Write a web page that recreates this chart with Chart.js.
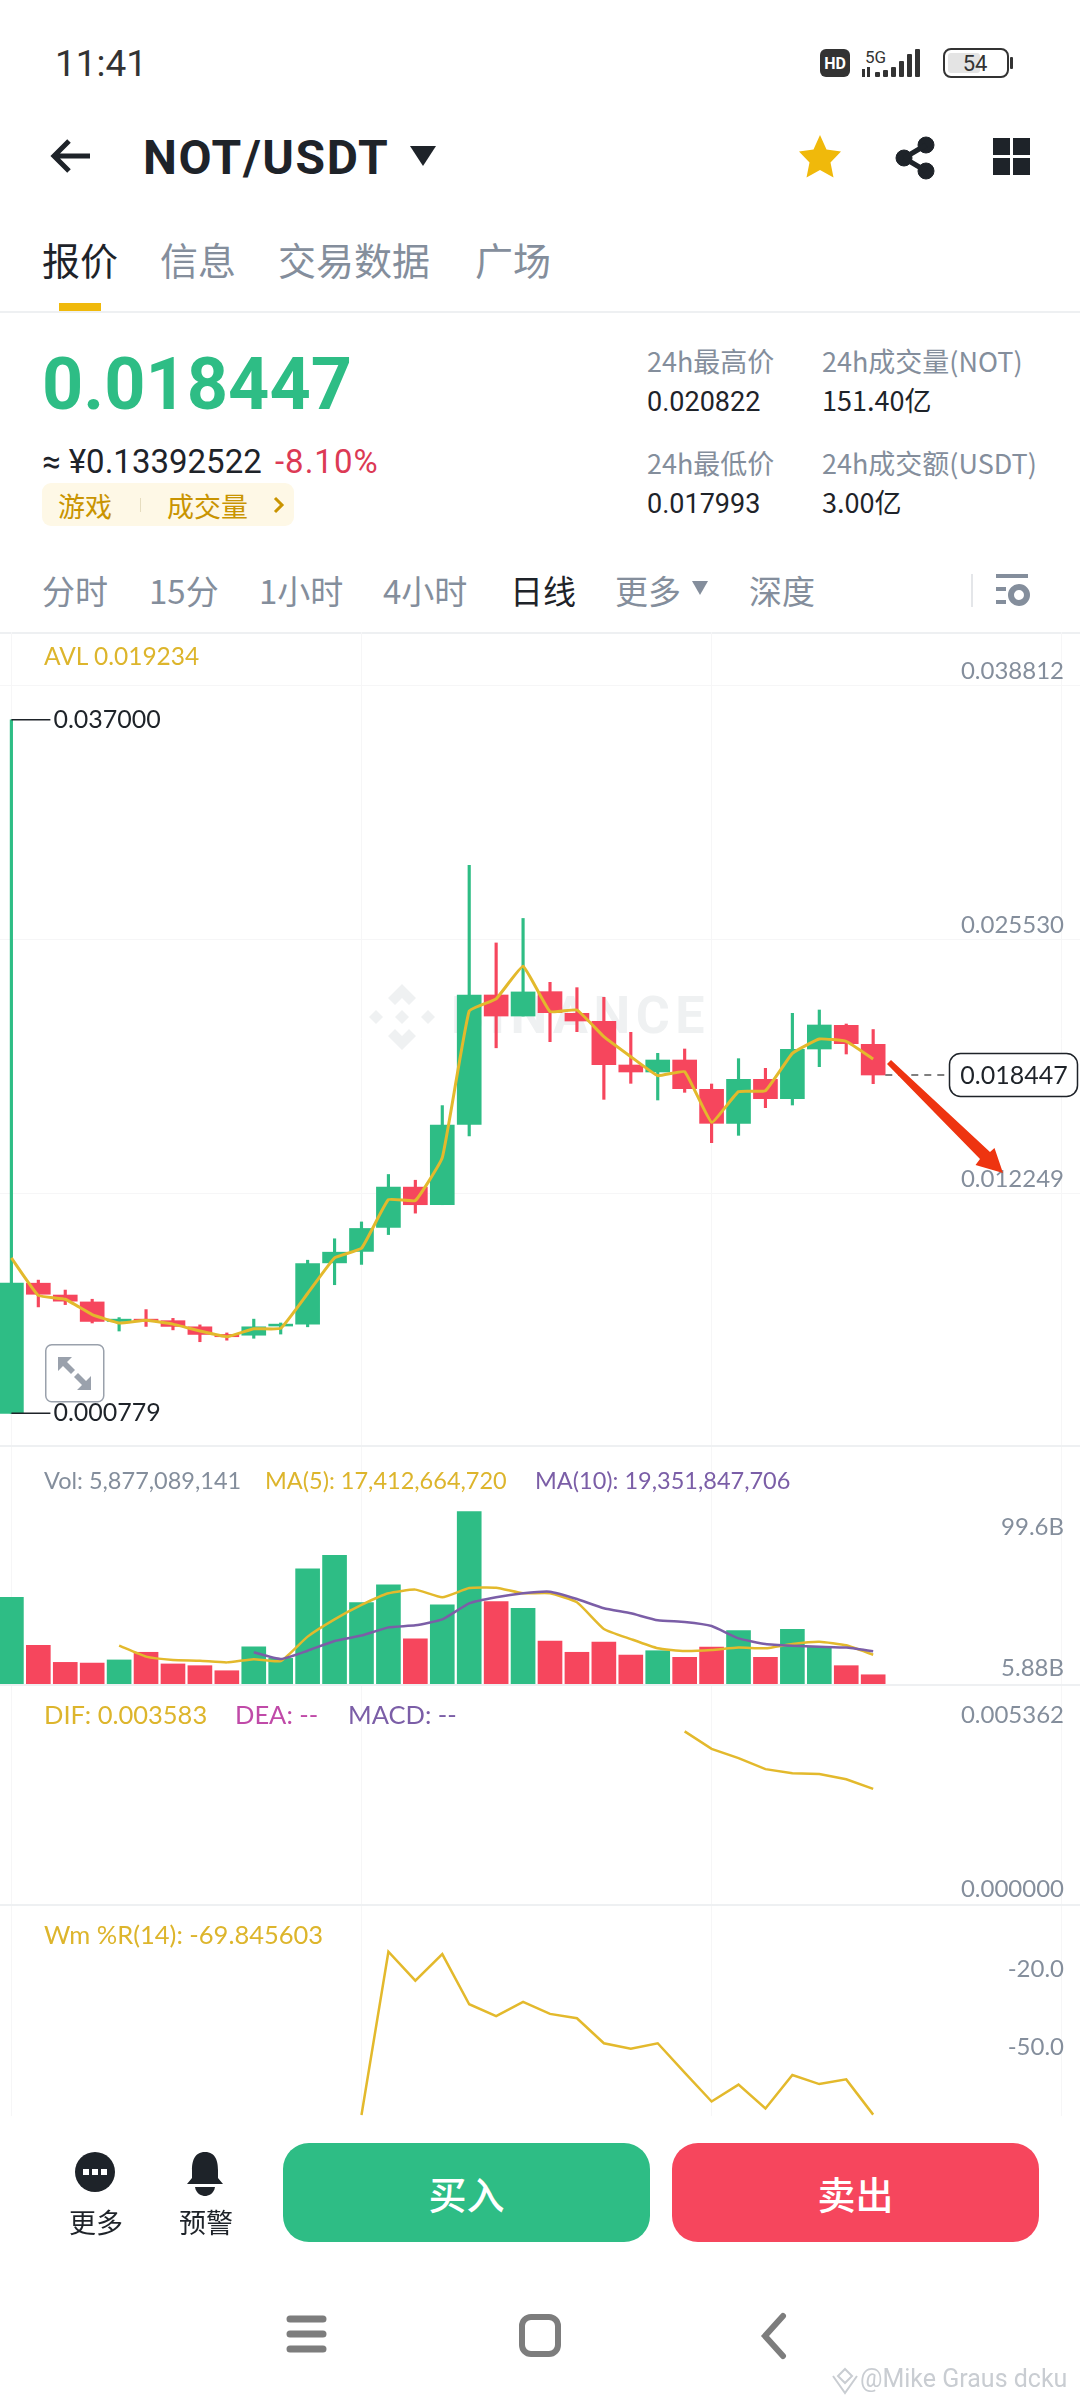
<!DOCTYPE html>
<html lang="zh">
<head>
<meta charset="utf-8">
<title>NOT/USDT</title>
<script src="https://cdn.jsdelivr.net/npm/chart.js@4/dist/chart.umd.min.js"></script>
<style>
  html, body { margin: 0; padding: 0; background: #fff; }
  #page { position: relative; width: 1080px; height: 2400px; overflow: hidden; background: #fff;
          font-family: Roboto, "Noto Sans CJK SC", sans-serif; color: #1E2329; }
  .t { position: absolute; white-space: nowrap; transform: translateY(-50%); line-height: 1; }
  .c { font-family: "Noto Sans CJK SC", Roboto, sans-serif; }
  .g { color: #848E9C; }
  .l { font-family: Lato, "Noto Sans", sans-serif; font-size: 23.5px; }
  .hr { position: absolute; left: 0; width: 1080px; height: 1.5px; background: #EEF0F2; }
  canvas { position: absolute; left: 0; }
  svg { position: absolute; overflow: visible; }
  .btn { position: absolute; top: 2143px; height: 99px; width: 367px; border-radius: 26px;
         color: #fff; font-size: 38px; text-align: center; line-height: 99px; font-weight: 500; }
</style>
</head>
<body>
<div id="page">
  <!-- status bar -->
  <div class="t" style="left:55px;top:63px;font-size:37px;color:#333">11:41</div>
  <svg style="left:820px;top:49px" width="200" height="32">
    <rect x="0" y="0" width="30" height="28" rx="6" fill="#333"/>
    <text x="15" y="20" font-size="16" font-weight="700" fill="#fff" text-anchor="middle" font-family="Roboto">HD</text>
    <text x="45" y="14" font-size="17" fill="#333" font-family="Roboto">5G</text>
    <g fill="#333">
      <rect x="42" y="20" width="3" height="8"/><rect x="47" y="18" width="3" height="10"/>
      <rect x="71" y="18" width="5" height="10" rx="1"/><rect x="79" y="12" width="5" height="16" rx="1"/>
      <rect x="87" y="5" width="5" height="23" rx="1"/><rect x="95" y="0" width="5" height="28" rx="1"/>
      <rect x="55" y="23" width="5" height="5" rx="1"/><rect x="63" y="21" width="5" height="7" rx="1"/>
    </g>
    <rect x="124" y="0" width="64" height="28" rx="7" fill="none" stroke="#333" stroke-width="2"/>
    <rect x="128" y="4" width="32" height="20" rx="3" fill="#E4E4E4"/>
    <rect x="190" y="8" width="3" height="12" rx="1" fill="#333"/>
    <text x="155" y="22" font-size="22" fill="#333" text-anchor="middle" font-family="Roboto">54</text>
  </svg>

  <!-- header -->
  <svg style="left:50px;top:138px" width="42" height="36" fill="none" stroke="#1E2329" stroke-width="5">
    <path d="M40 18 H4 M19 3 L4 18 L19 33"/>
  </svg>
  <div class="t" style="left:143px;top:158px;font-size:48px;font-weight:700;letter-spacing:1.600px">NOT/USDT</div>
  <svg style="left:410px;top:146px" width="26" height="20"><path d="M0 0 H26 L13 20 Z" fill="#1E2329"/></svg>
  <svg style="left:798px;top:134px" width="44" height="44"><path d="M22 1 L28.5 15.5 L43 17.5 L32.5 28.5 L35.5 43.5 L22 36 L8.500 43.5 L11.500 28.500 L1 17.500 L15.500 15.500 Z" fill="#F0B90B"/></svg>
  <svg style="left:895px;top:137px" width="40" height="42" fill="#1E2329" stroke="#1E2329">
    <circle cx="9" cy="21" r="8"/><circle cx="31" cy="8" r="8"/><circle cx="31" cy="34" r="8"/>
    <path d="M9 21 L31 8 M9 21 L31 34" stroke-width="5"/>
  </svg>
  <svg style="left:993px;top:138px" width="37" height="37" fill="#1E2329">
    <rect width="17" height="17"/><rect x="20" width="17" height="17"/><rect y="20" width="17" height="17"/><rect x="20" y="20" width="17" height="17"/>
  </svg>

  <!-- tabs -->
  <div class="t c" style="left:42px;top:259px;font-size:38px">报价</div>
  <div class="t c g" style="left:160px;top:259px;font-size:38px">信息</div>
  <div class="t c g" style="left:278px;top:259px;font-size:38px">交易数据</div>
  <div class="t c g" style="left:475px;top:259px;font-size:38px">广场</div>
  <div style="position:absolute;left:59px;top:303px;width:42px;height:8px;background:#F0B90B"></div>
  <div class="hr" style="top:311px"></div>

  <!-- quote -->
  <div class="t" style="left:42px;top:385px;font-size:72px;font-weight:700;color:#2EBD85">0.018447</div>
  <div class="t" style="left:42px;top:461px;font-size:33px">≈ ¥0.13392522</div>
  <div class="t" style="left:275px;top:461px;font-size:33px;letter-spacing:1px;color:#DC3A55">-8.10%</div>
  <div style="position:absolute;left:42px;top:483px;width:252px;height:43px;background:#FEF8E6;border-radius:9px"></div>
  <div class="t c" style="left:58px;top:505px;font-size:27px;color:#C99400">游戏</div>
  <div style="position:absolute;left:140px;top:498px;width:1px;height:14px;background:#E6DDBF"></div>
  <div class="t c" style="left:167px;top:505px;font-size:27px;color:#C99400">成交量</div>
  <svg style="left:273px;top:497px" width="12" height="16" fill="none" stroke="#C99400" stroke-width="3"><path d="M2 1 L9 8 L2 15"/></svg>

  <div class="t c g" style="left:647px;top:360px;font-size:27px">24h最高价</div>
  <div class="t" style="left:647px;top:402px;font-size:27px">0.020822</div>
  <div class="t c g" style="left:822px;top:360px;font-size:27px">24h成交量(NOT)</div>
  <div class="t c" style="left:822px;top:399px;font-size:27px">151.40亿</div>
  <div class="t c g" style="left:647px;top:462px;font-size:27px">24h最低价</div>
  <div class="t" style="left:647px;top:504px;font-size:27px">0.017993</div>
  <div class="t c g" style="left:822px;top:462px;font-size:27px">24h成交额(USDT)</div>
  <div class="t c" style="left:822px;top:501px;font-size:27px">3.00亿</div>

  <!-- periods -->
  <div class="t c g" style="left:42px;top:590px;font-size:33px">分时</div>
  <div class="t c g" style="left:149px;top:590px;font-size:33px">15分</div>
  <div class="t c g" style="left:259px;top:590px;font-size:33px">1小时</div>
  <div class="t c g" style="left:383px;top:590px;font-size:33px">4小时</div>
  <div class="t c" style="left:510px;top:590px;font-size:33px">日线</div>
  <div class="t c g" style="left:615px;top:590px;font-size:33px">更多</div>
  <svg style="left:692px;top:581px" width="16" height="14"><path d="M0 0 H16 L8 14 Z" fill="#848E9C"/></svg>
  <div class="t c g" style="left:749px;top:590px;font-size:33px">深度</div>
  <div style="position:absolute;left:971px;top:574px;width:1.5px;height:33px;background:#E4E6E9"></div>
  <svg style="left:996px;top:574px" width="34" height="34" fill="#848E9C">
    <rect width="32" height="4"/><rect y="13" width="10" height="4"/><rect y="26" width="10" height="4"/>
    <circle cx="23" cy="21" r="8" fill="none" stroke="#848E9C" stroke-width="6"/>
  </svg>
  <div class="hr" style="top:632px"></div>

  <!-- watermark behind the candles -->
  <svg style="left:369px;top:984px" width="66" height="66" fill="#EFF1F2">
    <path d="M33 0 L47 14 L40 21 L33 14 L26 21 L19 14 Z"/><path d="M33 66 L47 52 L40 45 L33 52 L26 45 L19 52 Z"/>
    <path d="M0 33 L7 26 L14 33 L7 40 Z"/><path d="M66 33 L59 26 L52 33 L59 40 Z"/><path d="M33 26 L40 33 L33 40 L26 33 Z"/>
  </svg>
  <div class="t" style="left:451px;top:1016px;font-size:52px;font-weight:700;color:#EFF1F2;letter-spacing:5.500px">BINANCE</div>

  <canvas id="mainChart" width="1080" height="813" style="top:632px"></canvas>
  <canvas id="volChart" width="1080" height="240" style="top:1445px"></canvas>
  <canvas id="macdChart" width="1080" height="220" style="top:1685px"></canvas>
  <canvas id="wrChart" width="1080" height="211" style="top:1905px"></canvas>
  <div class="hr" style="top:1445px"></div>
  <div class="hr" style="top:1684px"></div>
  <div class="hr" style="top:1904px"></div>

  <!-- panel captions -->
  <div class="t l" style="left:44px;top:656px;font-size:24.500px;color:#DDB52C">AVL 0.019234</div>
  <div class="t l g" style="left:44px;top:1481px">Vol: 5,877,089,141</div>
  <div class="t l" style="left:265px;top:1481px;color:#DDB52C">MA(5): 17,412,664,720</div>
  <div class="t l" style="left:535px;top:1481px;color:#7B5EA7">MA(10): 19,351,847,706</div>
  <div class="t l" style="left:44px;top:1715px;font-size:25.500px;color:#DDB52C">DIF: 0.003583</div>
  <div class="t l" style="left:235px;top:1715px;font-size:25.500px;color:#C04AA8">DEA: --</div>
  <div class="t l" style="left:348px;top:1715px;font-size:25.500px;color:#7B5EA7">MACD: --</div>
  <div class="t l" style="left:44px;top:1935px;font-size:25.500px;color:#DDB52C">Wm %R(14): -69.845603</div>

  <!-- expand button -->
  <svg style="left:45px;top:1344px" width="60" height="59" fill="#9AA1AC">
    <rect x="0.750" y="0.750" width="58" height="57" rx="6" fill="#fff" fill-opacity="0.6" stroke="#9AA1AC" stroke-width="1.500"/>
    <path d="M13 13 H27 L22 18 L30 26 L26 30 L18 22 L13 27 Z"/><path d="M46 46 H32 L37 41 L29 33 L33 29 L41 37 L46 32 Z"/>
  </svg>

  <!-- hand drawn arrow on the screenshot -->
  <svg style="left:0;top:0" width="1080" height="2400">
    <path d="M887 1064 L891 1060 L990 1152 L994.500 1148 L1003 1173 L975.500 1165 L980 1159 Z" fill="#EE3410"/>
  </svg>

  <!-- bottom bar -->
  <svg style="left:75px;top:2152px" width="40" height="40"><circle cx="20" cy="20" r="20" fill="#1E2329"/><g fill="#fff"><rect x="8" y="17" width="6" height="6"/><rect x="17" y="17" width="6" height="6"/><rect x="26" y="17" width="6" height="6"/></g></svg>
  <svg style="left:186px;top:2152px" width="38" height="44" fill="#1E2329"><path d="M19 0 C30 0 32 10 32 18 V26 L37 32 H1 L6 26 V18 C6 10 8 0 19 0 Z"/><path d="M9 35 H29 C28 42 22 44 19 44 C16 44 10 42 9 35 Z"/></svg>
  <div class="t c" style="left:69px;top:2221px;font-size:27px">更多</div>
  <div class="t c" style="left:179px;top:2221px;font-size:27px">预警</div>
  <div class="btn c" style="left:283px;background:#2EBD85">买入</div>
  <div class="btn c" style="left:672px;background:#F6465D">卖出</div>

  <!-- navigation bar -->
  <svg style="left:285px;top:2313px" width="520" height="46" fill="none" stroke="#7D7D7D" stroke-width="6" stroke-linecap="round">
    <path d="M5 6 H38 M5 21 H38 M5 36 H38" stroke-width="7"/>
    <rect x="237" y="4" width="36" height="37" rx="9"/>
    <path d="M498 3 L480 23 L498 43"/>
  </svg>
  <svg style="left:830px;top:2366px" width="30" height="30" fill="none" stroke="#C9CDD2" stroke-width="2"><path d="M15 3 L22 10 L15 17 L8 10 Z M3 10 L15 27 L27 10"/></svg>
  <div class="t" style="left:860px;top:2378px;font-size:25px;color:#C9CDD2">@Mike Graus dcku</div>
</div>

<script>
// values, one entry per daily candle
const openP = [0.000779, 0.007576, 0.006957, 0.006597, 0.005578, 0.005698, 0.005618, 0.005298, 0.004899, 0.004859, 0.005338,
  0.005438, 0.008636, 0.009235, 0.010494, 0.012593, 0.011673, 0.015870, 0.022625, 0.021526, 0.022799, 0.021667,
  0.021250, 0.018969, 0.018604, 0.019230, 0.017699, 0.015923, 0.018221, 0.017211, 0.019805, 0.021041, 0.020049];
const closeP = [0.007576, 0.006997, 0.006637, 0.005578, 0.005698, 0.005578, 0.005318, 0.004899, 0.004779, 0.005298, 0.005438,
  0.008596, 0.009195, 0.010434, 0.012593, 0.011673, 0.015830, 0.022625, 0.021526, 0.022785, 0.021702, 0.021267,
  0.018987, 0.018604, 0.019230, 0.017733, 0.015923, 0.018221, 0.017211, 0.019787, 0.021058, 0.020083, 0.018447];
const highP = [0.037000, 0.007736, 0.007217, 0.006737, 0.005778, 0.006197, 0.005738, 0.005398, 0.004978, 0.005698, 0.005498,
  0.008776, 0.009895, 0.010774, 0.013252, 0.012952, 0.016849, 0.029400, 0.025343, 0.026622, 0.023286, 0.023008,
  0.022503, 0.020675, 0.019579, 0.019805, 0.017977, 0.019300, 0.018795, 0.021667, 0.021841, 0.021110, 0.020822];
const lowP = [0.000779, 0.006337, 0.006457, 0.005498, 0.005078, 0.005318, 0.005138, 0.004519, 0.004599, 0.004699, 0.004919,
  0.005298, 0.007496, 0.008556, 0.010114, 0.011234, 0.011673, 0.015271, 0.019867, 0.021526, 0.020188, 0.020710,
  0.017176, 0.018012, 0.017142, 0.017542, 0.014913, 0.015296, 0.016741, 0.016880, 0.018882, 0.019544, 0.017993];
const avl = [0.008895, 0.006937, 0.006737, 0.005938, 0.005498, 0.005638, 0.005438, 0.005078, 0.004779, 0.005198, 0.005218,
  0.007037, 0.008895, 0.009395, 0.011933, 0.011893, 0.014131, 0.021786, 0.022425, 0.024124, 0.021754, 0.021841,
  0.020449, 0.019404, 0.018412, 0.018621, 0.015975, 0.017577, 0.017629, 0.019579, 0.020327, 0.020205, 0.019283];

// volume in billions
const volB = [50.4, 22.8, 13.0, 12.6, 14.4, 18.8, 12.1, 11.1, 8.2, 22.0, 15.3, 66.8, 74.5, 47.3, 57.5, 26.6, 46.0, 99.6, 47.9, 44.1,
  25.3, 18.8, 24.7, 17.2, 19.7, 15.9, 21.8, 31.2, 15.9, 32.0, 21.7, 11.1, 5.88];
const ma5 = [null, null, null, null, 22.6, 16.3, 14.4, 14.0, 13.0, 14.8, 13.8, 27.8, 37.7, 46.0, 52.7, 54.8, 50.4, 55.7, 55.9, 52.7,
  52.7, 47.5, 32.2, 26.4, 21.1, 19.5, 20.1, 21.5, 21.1, 23.6, 24.9, 22.8, 17.41];
const ma10 = [null, null, null, null, null, null, null, null, null, 18.8, 14.9, 19.7, 25.3, 28.4, 33.1, 34.3, 37.7, 46.9, 50.4, 52.7,
  53.6, 49.4, 44.1, 41.2, 37.2, 36.2, 33.9, 26.8, 23.6, 22.6, 22.0, 21.5, 19.35];

// DIF only starts at candle 25
const difStart = 25;
const dif = [0.005353, 0.004813, 0.004530, 0.004190, 0.004064, 0.004036, 0.003879, 0.003583];
// Williams %R only starts at candle 13
const wrStart = 13;
const wr = [-70.0, -7.2, -18.3, -8.1, -27.4, -32.0, -26.5, -31.1, -32.8, -42.4, -44.5, -42.4, -53.7, -64.8, -58.3, -67.5, -54.6, -58.1, -56.3, -69.85];

const priceTicks = [0.038812, 0.025530, 0.012249];
const volTicks = [99.6, 5.88];
const volTickLabels = ['99.6B', '5.88B'];
const macdTicks = [0.005362, 0];
const wrTicks = [-20, -50];
const xTicks = [0, 13, 26, 39];

const lastPrice = 0.018447;
const GREEN = '#2EBD85', RED = '#F6465D', YELLOW = '#E3B92C', PURPLE = '#7B5EA7';
const GRID = '#F6F6F7', AXIS_GRAY = '#848E9C', DARK = '#1E2329';
const axisFont = { family: 'Lato', size: 24 };

const candleColor = openP.map((o, i) => (closeP[i] >= o ? GREEN : RED));

function points(arr, start) {
  return arr.map((v, i) => ({ x: i + (start || 0), y: v }));
}

function xAxis() {
  return {
    type: 'linear',
    offset: false,
    min: -0.423, max: 39.68,
    afterBuildTicks: s => { s.ticks = xTicks.map(v => ({ value: v })); },
    afterFit: s => { s.height = 0; s.paddingLeft = 0; s.paddingRight = 0; },
    ticks: { display: false },
    border: { display: false },
    grid: { offset: false, color: GRID, drawTicks: false }
  };
}

function yAxis(min, max, tickVals, fmt, showGrid, showLabels, labelShift) {
  return {
    position: 'right',
    min: min, max: max,
    afterBuildTicks: s => { s.ticks = tickVals.map(v => ({ value: v })); },
    afterFit: s => { s.width = 0; s.paddingTop = 0; s.paddingBottom = 0; },
    ticks: {
      // with a mirrored right axis the padding is counted from the box's left edge
      display: showLabels, mirror: true, padding: -16, autoSkip: false, labelOffset: labelShift,
      color: AXIS_GRAY, font: axisFont, callback: fmt
    },
    border: { display: false },
    grid: { display: showGrid, color: GRID, drawTicks: false }
  };
}

function baseOptions(x, y) {
  return {
    responsive: false,
    animation: false,
    events: [],
    layout: { padding: 0 },
    plugins: { legend: { display: false }, tooltip: { enabled: false } },
    scales: { x: x, y: y }
  };
}

function lineSet(data, color, tension, width) {
  return { type: 'line', data: data, borderColor: color, borderWidth: width || 2.5, pointRadius: 0, tension: tension || 0, order: 0 };
}

// high, low and last price marks on the candle panel
const priceMarks = {
  id: 'priceMarks',
  afterDatasetsDraw(chart) {
    const { ctx, scales: { x, y } } = chart;
    const x0 = x.getPixelForValue(0);
    ctx.save();
    ctx.font = '25px Lato';
    ctx.fillStyle = DARK;
    ctx.strokeStyle = DARK;
    ctx.lineWidth = 1.5;
    ctx.textBaseline = 'middle';
    [highP[0], lowP[0]].forEach(v => {
      const py = y.getPixelForValue(v);
      ctx.beginPath();
      ctx.moveTo(x0, py);
      ctx.lineTo(x0 + 39, py);
      ctx.stroke();
      ctx.fillText(v.toFixed(6), x0 + 42, py);
    });
    // last price tag
    const py = y.getPixelForValue(lastPrice);
    ctx.beginPath();
    ctx.roundRect(949.5, py - 21.5, 128, 43, 11);
    ctx.fillStyle = '#fff';
    ctx.fill();
    ctx.stroke();
    ctx.fillStyle = DARK;
    ctx.font = '25px Lato';
    ctx.textAlign = 'center';
    ctx.fillText(lastPrice.toFixed(6), 1014, py + 1);
    ctx.restore();
  }
};

// the app puts these two labels on different sides of their level
const volLabels = {
  id: 'volLabels',
  afterDatasetsDraw(chart) {
    const { ctx, scales: { y } } = chart;
    const shift = [16, -7];
    ctx.save();
    ctx.font = '24px Lato';
    ctx.fillStyle = AXIS_GRAY;
    ctx.textAlign = 'right';
    ctx.textBaseline = 'middle';
    volTicks.forEach((v, i) => ctx.fillText(volTickLabels[i], 1064, y.getPixelForValue(v) + shift[i]));
    ctx.restore();
  }
};

new Chart(document.getElementById('mainChart'), {
  type: 'bar',
  plugins: [priceMarks],
  data: {
    datasets: [
      lineSet(points(avl), YELLOW, 0.1, 3),
      {
        type: 'line',
        data: [{ x: 32.45, y: lastPrice }, { x: 35.2, y: lastPrice }],
        borderColor: '#555', borderWidth: 1.5, borderDash: [7, 6], pointRadius: 0, order: 1
      },
      { data: points(openP.map((o, i) => [o, closeP[i]])), backgroundColor: candleColor, barThickness: 24, grouped: false, order: 2 },
      { data: points(lowP.map((l, i) => [l, highP[i]])), backgroundColor: candleColor, barThickness: 2.5, grouped: false, order: 3 }
    ]
  },
  options: baseOptions(xAxis(), yAxis(-0.000874, 0.04158, priceTicks, v => v.toFixed(6), true, true, -14))
});

new Chart(document.getElementById('volChart'), {
  type: 'bar',
  plugins: [volLabels],
  data: {
    datasets: [
      lineSet(points(ma10), PURPLE, 0.15),
      lineSet(points(ma5), YELLOW, 0.15),
      { data: points(volB), backgroundColor: candleColor, barThickness: 24, order: 2 }
    ]
  },
  options: baseOptions(xAxis(), yAxis(0, 137.9, volTicks, v => v, false, false, 0))
});

new Chart(document.getElementById('macdChart'), {
  type: 'line',
  data: { datasets: [lineSet(points(dif, difStart), YELLOW)] },
  options: baseOptions(xAxis(), yAxis(0, 0.006784, macdTicks, v => v.toFixed(6), false, true, -16))
});

new Chart(document.getElementById('wrChart'), {
  type: 'line',
  data: { datasets: [lineSet(points(wr, wrStart), YELLOW)] },
  options: baseOptions(xAxis(), yAxis(-70.38, 10.77, wrTicks, v => v.toFixed(1), false, true, -16))
});
</script>
</body>
</html>
